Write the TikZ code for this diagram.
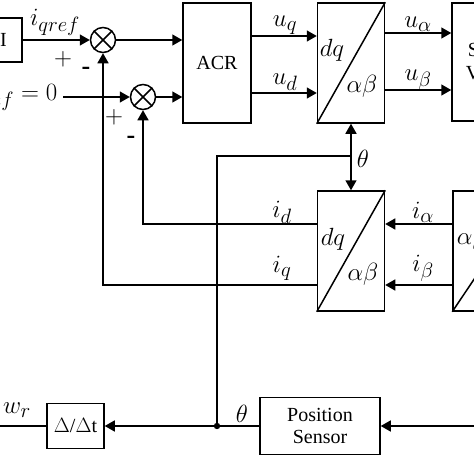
\documentclass[tikz,border=0pt]{standalone}
\usepackage{fontspec}
\setmainfont{Liberation Serif}
\usetikzlibrary{arrows.meta}

\begin{document}
\begin{tikzpicture}[x=1pt, y=-1pt, line width=1.5pt, >={Triangle[length=10pt,width=11pt]}]
	  \tikzstyle{block} = [draw, rectangle, inner sep=0pt, font=\fontsize{20}{23}\selectfont]
	  \tikzstyle{sumnode} = [draw, circle, minimum size=25pt, inner sep=0pt]
	  \tikzstyle{lbl} = [inner sep=0pt, font=\fontsize{24.88}{28}\selectfont]
	  \tikzstyle{sgn} = [inner sep=0pt, font=\fontsize{26}{28}\selectfont\bfseries]
	  \useasboundingbox (0,0) rectangle (474,474);
	  \clip (0,0) rectangle (474,474);
	  % blocks
	  \node[block, minimum width=48pt, minimum height=44pt] (pi) at (-2,40) {PI};
	  \node[sumnode] (s1) at (103,40) {};
	  \node[sumnode] (s2) at (143,97) {};
	  \node[block, minimum width=68pt, minimum height=120pt] (acr) at (217,63) {ACR};
	  \node[block, minimum width=67pt, minimum height=120pt] (dq1) at (351,63) {};
	  \node[block, minimum width=96pt, minimum height=118pt] (svm) at (500,62) {};
	  \node[block, minimum width=67pt, minimum height=120pt] (dq2) at (351,251) {};
	  \node[block, minimum width=80pt, minimum height=120pt] (ab) at (493,251) {};
	  \node[block, minimum width=57pt, minimum height=45pt] (diff) at (75.5,426) {$\Delta$/$\Delta$t};
	  \node[block, minimum width=120pt, minimum height=57pt, align=center] (pos) at (320,426) {Position\\[-1pt]Sensor};
	  \node[inner sep=0pt, anchor=west, font=\fontsize{20}{23}\selectfont] (svm1) at (467,50) {S};
	  \node[inner sep=0pt, anchor=west, font=\fontsize{20}{23}\selectfont] (svm2) at (465,73) {V};
	  % crosses and diagonals
	  \foreach \s in {s1,s2} {
	    \draw (\s.north west) -- (\s.south east);
	    \draw (\s.north east) -- (\s.south west);
	  }
	  \foreach \b in {dq1,dq2,ab}
	    \draw (\b.south west) -- (\b.north east);
	  % labels
	  \node[lbl] (iqref) at (55,22) {$i_{qref}$};
	  \node[lbl, anchor=east] (idref) at (58,97) {$i_{dref}=0$};
	  \node[lbl] (p1) at (63,59) {$+$};
	  \node[sgn] (m1) at (86,71) {-};
	  \node[lbl] (p2) at (114,117) {$+$};
	  \node[sgn] (m2) at (131,140) {-};
	  \node[lbl] (uq) at (285,25) {$u_q$};
	  \node[lbl] (ud) at (285,82) {$u_d$};
	  \node[lbl] (ua) at (418,24) {$u_\alpha$};
	  \node[lbl] (ub) at (418,80) {$u_\beta$};
	  \node[lbl] (dqa) at (332,50) {$dq$};
	  \node[lbl] (aba) at (362,86) {$\alpha\beta$};
	  \node[lbl] (dqb) at (333,239) {$dq$};
	  \node[lbl] (abb) at (363,274) {$\alpha\beta$};
	  \node[lbl, anchor=west] (abc) at (456,238) {$\alpha\beta$};
	  \node[lbl] (th1) at (363,159) {$\theta$};
	  \node[lbl] (id) at (282,212) {$i_d$};
	  \node[lbl] (iq) at (282,268) {$i_q$};
	  \node[lbl] (ia) at (423,212) {$i_\alpha$};
	  \node[lbl] (ib) at (423,268) {$i_\beta$};
	  \node[lbl] (wr) at (17,410) {$w_r$};
	  \node[lbl] (th2) at (242,414) {$\theta$};
	  % coordinates
	  \coordinate (din) at (63,97);
	  \coordinate (tj) at (351,156);
	  \coordinate (jn) at (217,426);
	  \coordinate (enc) at (480,426);
	  \coordinate (wout) at (-5,426);
	  % connectors
	  \draw[->] (pi.east |- s1) -- (s1.west);
	  \draw[->] (din) -- (s2.west);
	  \draw[->] (s1.east) -- (s1.east -| acr.west);
	  \draw[->] (s2.east) -- (s2.east -| acr.west);
	  \draw[->] (acr.east |- 0,36) -- (dq1.west |- 0,36);
	  \draw[->] (acr.east |- 0,93) -- (dq1.west |- 0,93);
	  \draw[->] (dq1.east |- 0,33) -- (svm.west |- 0,33);
	  \draw[->] (dq1.east |- 0,90) -- (svm.west |- 0,90);
	  \draw[->] (ab.west |- 0,224) -- (dq2.east |- 0,224);
	  \draw[->] (ab.west |- 0,285) -- (dq2.east |- 0,285);
	  \draw[->] (dq2.west |- 0,224) -| (s2.south);
	  \draw[->] (dq2.west |- 0,285) -| (s1.south);
	  \draw (jn) |- (tj);
	  \draw[->] (tj) -- (dq1.south);
	  \draw[->] (tj) -- (dq2.north);
	  \draw[->] (enc) -- (pos.east);
	  \draw (pos.west) -- (jn);
	  \draw[->] (jn) -- (diff.east);
	  \draw (diff.west) -- (wout);
	  \fill (jn) circle (3.2);
	\end{tikzpicture}
\end{document}
